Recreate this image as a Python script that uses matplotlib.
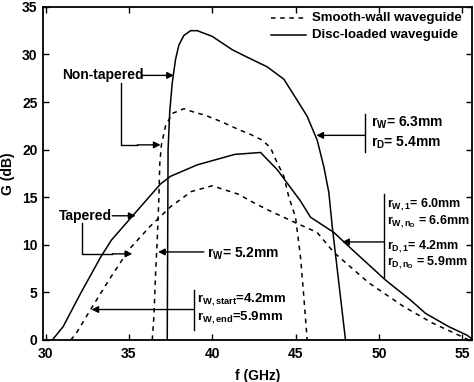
import matplotlib.pyplot as plt

# smooth-wall waveguide, non-tapered (dashed, tall)
f_sw_nt = [36.4, 36.5, 36.6, 36.7, 36.8, 36.85, 36.95, 37.2, 37.6, 38.3, 38.8, 39.6,
           40.6, 41.6, 42.3, 43.0, 43.5, 43.8, 44.3, 44.6, 45.0, 45.3, 45.5, 45.7]
g_sw_nt = [0, 2.5, 7, 10.5, 15, 18.5, 20.5, 22.5, 23.8, 24.3, 24.0, 23.6,
           22.9, 22.1, 21.6, 21.0, 20.2, 19.0, 17.2, 15.0, 12.9, 8.7, 4.5, 0]

# disc-loaded waveguide, non-tapered (solid, tall)
f_dl_nt = [37.3, 37.35, 37.45, 37.6, 37.8, 38.0, 38.3, 38.7, 39.1, 40.0, 41.2, 42.0,
           43.3, 44.3, 45.06, 45.7, 46.3, 46.7, 47.0, 47.2, 47.5, 47.8, 48.0]
g_dl_nt = [0, 20, 24, 27, 29.5, 31, 32, 32.5, 32.5, 31.9, 30.5, 29.8,
           28.7, 27.4, 25.3, 23.5, 21, 18.2, 15.5, 12, 7.5, 3, 0]

# smooth-wall waveguide, tapered (dashed, low)
f_sw_t = [31.5, 31.8, 32.7, 33.8, 35.0, 36.25, 37.5, 38.75, 40.0, 41.6, 42.3, 43.3,
          44.9, 46.3, 47.3, 49.4, 51.5, 53.2, 54.8, 55.4]
g_sw_t = [0, 0.6, 3.2, 6.3, 9.5, 11.9, 14.0, 15.6, 16.2, 15.3, 14.6, 13.7,
          12.4, 11.3, 9.2, 6.0, 3.5, 1.8, 0.5, 0]

# disc-loaded waveguide, tapered (solid, low)
f_dl_t = [30.4, 31.05, 32.1, 33.3, 33.95, 35.4, 36.9, 37.5, 39.1, 41.35, 42.9, 43.9,
          45.3, 45.9, 47.3, 48.4, 50.4, 51.9, 52.8, 54.2, 55.3, 55.6]
g_dl_t = [0, 1.4, 4.9, 8.7, 10.5, 13.4, 16.4, 17.2, 18.4, 19.5, 19.7, 17.9,
          14.6, 12.9, 11.3, 9.5, 6.3, 4.2, 2.8, 1.4, 0.5, 0.1]

plt.rcParams['font.family'] = ['Liberation Sans', 'DejaVu Sans']
plt.rcParams['font.weight'] = 'bold'
plt.rcParams['mathtext.fontset'] = 'custom'
plt.rcParams['mathtext.rm'] = 'Liberation Sans:bold'
plt.rcParams['mathtext.bf'] = 'Liberation Sans:bold'
plt.rcParams['mathtext.it'] = 'Liberation Sans:bold'

fig = plt.figure(figsize=(4.74, 3.82), dpi=100)
ax = fig.add_axes([0.091, 0.11, 0.905, 0.872])

ax.plot(f_sw_nt, g_sw_nt, color='k', lw=1.1, linestyle=(0, (3, 3)))
ax.plot(f_dl_nt, g_dl_nt, color='k', lw=1.1)
ax.plot(f_sw_t, g_sw_t, color='k', lw=1.1, linestyle=(0, (3, 3)))
ax.plot(f_dl_t, g_dl_t, color='k', lw=1.1)

ax.set_xlim(29.85, 55.6)
ax.set_ylim(0, 35)
ax.set_xticks([30, 35, 40, 45, 50, 55])
ax.set_yticks([0, 5, 10, 15, 20, 25, 30, 35])
ax.tick_params(direction='in', length=4, width=1, top=True, right=True, labelsize=10)
ax.tick_params(axis='x', pad=5)
ax.tick_params(axis='y', pad=4)
for s in ax.spines.values():
    s.set_linewidth(1.3)
ax.set_xlabel("f (GHz)", fontsize=10, fontweight='bold', labelpad=6)
ax.set_ylabel("G (dB)", fontsize=10, fontweight='bold', labelpad=5)

# legend drawn by hand
ax.plot([43.5, 45.6], [33.8, 33.8], color='k', lw=1.1, linestyle=(0, (3, 3)))
ax.plot([43.5, 45.6], [32.0, 32.0], color='k', lw=1.1)
ax.text(46.0, 33.8, "Smooth-wall waveguide", fontsize=9.5, fontweight='bold', va='center')
ax.text(46.0, 32.0, "Disc-loaded waveguide", fontsize=9.5, fontweight='bold', va='center')

arrow = dict(arrowstyle='-|>', color='k', lw=1, mutation_scale=10, shrinkA=0, shrinkB=0)
tkw = dict(fontsize=10, fontweight='bold')
skw = dict(fontsize=9.5, fontweight='bold')

# Non-tapered
ax.text(31.0, 27.8, "Non-tapered", va='center', **tkw)
ax.annotate("", xy=(37.7, 27.8), xytext=(35.8, 27.8), arrowprops=arrow)
ax.plot([34.5, 34.5, 35.5], [27.0, 20.5, 20.5], color='k', lw=1)
ax.annotate("", xy=(36.9, 20.5), xytext=(35.5, 20.5), arrowprops=arrow)

# Tapered
ax.text(30.8, 13.05, "Tapered", va='center', **tkw)
ax.annotate("", xy=(35.4, 13.05), xytext=(34.0, 13.05), arrowprops=arrow)
ax.plot([32.2, 32.2, 34.0], [12.3, 9.05, 9.05], color='k', lw=1)
ax.annotate("", xy=(35.2, 9.05), xytext=(34.0, 9.05), arrowprops=arrow)

# r_W = 5.2mm
ax.text(39.7, 9.1, r"$\mathbf{r_W}$= 5.2mm", va='center', **tkw)
ax.annotate("", xy=(36.75, 9.25), xytext=(39.5, 9.25), arrowprops=arrow)

# tapered radii
ax.plot([38.9, 38.9], [1.05, 5.3], color='k', lw=1)
ax.annotate("", xy=(32.75, 3.2), xytext=(38.9, 3.2), arrowprops=arrow)
ax.text(39.1, 4.2, r"$\mathbf{r_{W,start}}$=4.2mm", va='center', **skw)
ax.text(39.1, 2.3, r"$\mathbf{r_{W,end}}$=5.9mm", va='center', **skw)

# r_W = 6.3mm, r_D = 5.4mm
ax.plot([49.2, 49.2], [19.7, 23.7], color='k', lw=1)
ax.annotate("", xy=(46.25, 21.5), xytext=(49.2, 21.5), arrowprops=arrow)
ax.text(49.55, 22.8, r"$\mathbf{r_W}$= 6.3mm", va='center', **tkw)
ax.text(49.55, 20.7, r"$\mathbf{r_D}$= 5.4mm", va='center', **tkw)

# disc-loaded tapered radii
ax.plot([50.3, 50.3], [6.6, 15.3], color='k', lw=1)
ax.annotate("", xy=(47.8, 10.3), xytext=(50.3, 10.3), arrowprops=arrow)
ax.text(50.5, 14.2, r"$\mathbf{r_{W,1}}$= 6.0mm", va='center', fontsize=9, fontweight='bold')
ax.text(50.5, 12.4, r"$\mathbf{r_{W,n_D}}$ = 6.6mm", va='center', fontsize=9, fontweight='bold')
ax.text(50.5, 9.8, r"$\mathbf{r_{D,1}}$= 4.2mm", va='center', fontsize=9, fontweight='bold')
ax.text(50.5, 8.1, r"$\mathbf{r_{D,n_D}}$ = 5.9mm", va='center', fontsize=9, fontweight='bold')

plt.savefig("out.png", dpi=100)
